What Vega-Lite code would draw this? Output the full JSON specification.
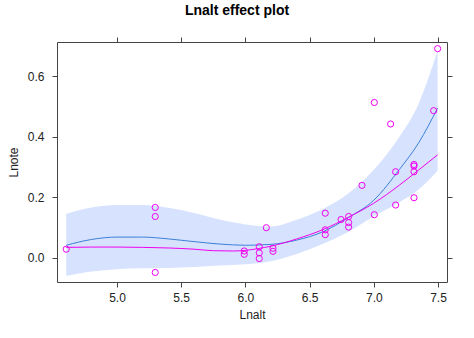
{
  "$schema": "https://vega.github.io/schema/vega-lite/v6.json",
  "width": 390,
  "height": 240,
  "autosize": {"type": "none"},
  "padding": {"left": 57, "top": 42, "right": 27, "bottom": 56},
  "background": "white",
  "title": {
    "text": "Lnalt effect plot",
    "font": "Liberation Sans",
    "fontSize": 14,
    "fontWeight": "bold",
    "color": "#000000",
    "anchor": "middle",
    "frame": "group",
    "dx": -15,
    "offset": 19
  },
  "config": {
    "view": {"stroke": "#444444", "strokeWidth": 1},
    "axis": {
      "grid": false,
      "domain": false,
      "tickColor": "#444444",
      "tickSize": 5,
      "labelFont": "Liberation Sans",
      "labelFontSize": 12,
      "labelColor": "#222222",
      "titleFont": "Liberation Sans",
      "titleFontSize": 12,
      "titleFontWeight": "normal",
      "titleColor": "#222222"
    }
  },
  "datasets": {
    "band": [
      {"x": 4.605, "lo": -0.061, "hi": 0.145},
      {"x": 4.8, "lo": -0.046, "hi": 0.166},
      {"x": 5.0, "lo": -0.038, "hi": 0.174},
      {"x": 5.2, "lo": -0.035, "hi": 0.174},
      {"x": 5.4, "lo": -0.034, "hi": 0.165},
      {"x": 5.6, "lo": -0.031, "hi": 0.148},
      {"x": 5.8, "lo": -0.026, "hi": 0.126},
      {"x": 6.0, "lo": -0.022, "hi": 0.110},
      {"x": 6.2, "lo": -0.012, "hi": 0.103},
      {"x": 6.4, "lo": 0.012, "hi": 0.125},
      {"x": 6.6, "lo": 0.045, "hi": 0.160},
      {"x": 6.8, "lo": 0.085, "hi": 0.212},
      {"x": 7.0, "lo": 0.137, "hi": 0.291},
      {"x": 7.2, "lo": 0.183, "hi": 0.400},
      {"x": 7.35, "lo": 0.225, "hi": 0.510},
      {"x": 7.497, "lo": 0.288, "hi": 0.685}
    ],
    "fit": [
      {"x": 4.605, "y": 0.041},
      {"x": 4.8, "y": 0.060},
      {"x": 5.0, "y": 0.068},
      {"x": 5.2, "y": 0.068},
      {"x": 5.4, "y": 0.062},
      {"x": 5.6, "y": 0.053},
      {"x": 5.8, "y": 0.045},
      {"x": 6.0, "y": 0.041},
      {"x": 6.2, "y": 0.044},
      {"x": 6.4, "y": 0.058},
      {"x": 6.6, "y": 0.085},
      {"x": 6.8, "y": 0.132},
      {"x": 7.0, "y": 0.190},
      {"x": 7.2, "y": 0.292},
      {"x": 7.35, "y": 0.380},
      {"x": 7.497, "y": 0.495}
    ],
    "smooth": [
      {"x": 4.605, "y": 0.034},
      {"x": 4.8, "y": 0.035},
      {"x": 5.0, "y": 0.035},
      {"x": 5.2, "y": 0.034},
      {"x": 5.4, "y": 0.032},
      {"x": 5.6, "y": 0.028},
      {"x": 5.75, "y": 0.023},
      {"x": 5.9, "y": 0.022},
      {"x": 6.0, "y": 0.024},
      {"x": 6.1, "y": 0.030},
      {"x": 6.2, "y": 0.038},
      {"x": 6.4, "y": 0.062},
      {"x": 6.6, "y": 0.092},
      {"x": 6.8, "y": 0.133},
      {"x": 7.0, "y": 0.180},
      {"x": 7.2, "y": 0.240},
      {"x": 7.35, "y": 0.290},
      {"x": 7.497, "y": 0.340}
    ],
    "points": [
      {"x": 4.605, "y": 0.028},
      {"x": 5.298, "y": 0.166},
      {"x": 5.298, "y": 0.136},
      {"x": 5.298, "y": -0.049},
      {"x": 5.991, "y": 0.022},
      {"x": 5.991, "y": 0.011},
      {"x": 6.108, "y": 0.036},
      {"x": 6.108, "y": 0.016},
      {"x": 6.108, "y": -0.003},
      {"x": 6.163, "y": 0.099},
      {"x": 6.215, "y": 0.031},
      {"x": 6.215, "y": 0.021},
      {"x": 6.622, "y": 0.147},
      {"x": 6.622, "y": 0.092},
      {"x": 6.622, "y": 0.076},
      {"x": 6.745, "y": 0.126},
      {"x": 6.804, "y": 0.136},
      {"x": 6.804, "y": 0.116},
      {"x": 6.804, "y": 0.101},
      {"x": 6.908, "y": 0.239},
      {"x": 7.004, "y": 0.142},
      {"x": 7.004, "y": 0.513},
      {"x": 7.131, "y": 0.442},
      {"x": 7.170, "y": 0.174},
      {"x": 7.170, "y": 0.284},
      {"x": 7.313, "y": 0.308},
      {"x": 7.313, "y": 0.303},
      {"x": 7.313, "y": 0.284},
      {"x": 7.313, "y": 0.198},
      {"x": 7.466, "y": 0.486},
      {"x": 7.497, "y": 0.691}
    ]
  },
  "resolve": {"axis": {"x": "independent", "y": "independent"}},
  "layer": [
    {
      "data": {"name": "band"},
      "mark": {"type": "area", "color": "#D7E3FE", "opacity": 1, "interpolate": "monotone"},
      "encoding": {
        "x": {"field": "x", "type": "quantitative",
              "scale": {"domain": [4.533, 7.57], "nice": false, "zero": false},
              "axis": {"orient": "bottom", "values": [5, 5.5, 6, 6.5, 7, 7.5], "format": ".1f", "title": "Lnalt", "labelPadding": 5, "titlePadding": 6}},
        "y": {"field": "lo", "type": "quantitative",
              "scale": {"domain": [-0.0805, 0.713], "nice": false, "zero": false},
              "axis": {"orient": "left", "values": [0, 0.2, 0.4, 0.6], "format": ".1f", "title": "Lnote", "labelPadding": 8, "titlePadding": 7}},
        "y2": {"field": "hi"}
      }
    },
    {
      "data": {"name": "fit"},
      "mark": {"type": "line", "color": "#3C7FD6", "strokeWidth": 1, "interpolate": "monotone"},
      "encoding": {
        "x": {"field": "x", "type": "quantitative",
              "axis": {"orient": "top", "values": [5, 5.5, 6, 6.5, 7, 7.5], "labels": false, "title": null}},
        "y": {"field": "y", "type": "quantitative",
              "axis": {"orient": "right", "values": [0, 0.2, 0.4, 0.6], "labels": false, "title": null}}
      }
    },
    {
      "data": {"name": "smooth"},
      "mark": {"type": "line", "color": "#F000F0", "strokeWidth": 1, "interpolate": "monotone"},
      "encoding": {
        "x": {"field": "x", "type": "quantitative", "axis": null},
        "y": {"field": "y", "type": "quantitative", "axis": null}
      }
    },
    {
      "data": {"name": "points"},
      "mark": {"type": "point", "shape": "circle", "filled": false, "color": "#F000F0", "strokeWidth": 1, "size": 38, "opacity": 1},
      "encoding": {
        "x": {"field": "x", "type": "quantitative", "axis": null},
        "y": {"field": "y", "type": "quantitative", "axis": null}
      }
    }
  ]
}
